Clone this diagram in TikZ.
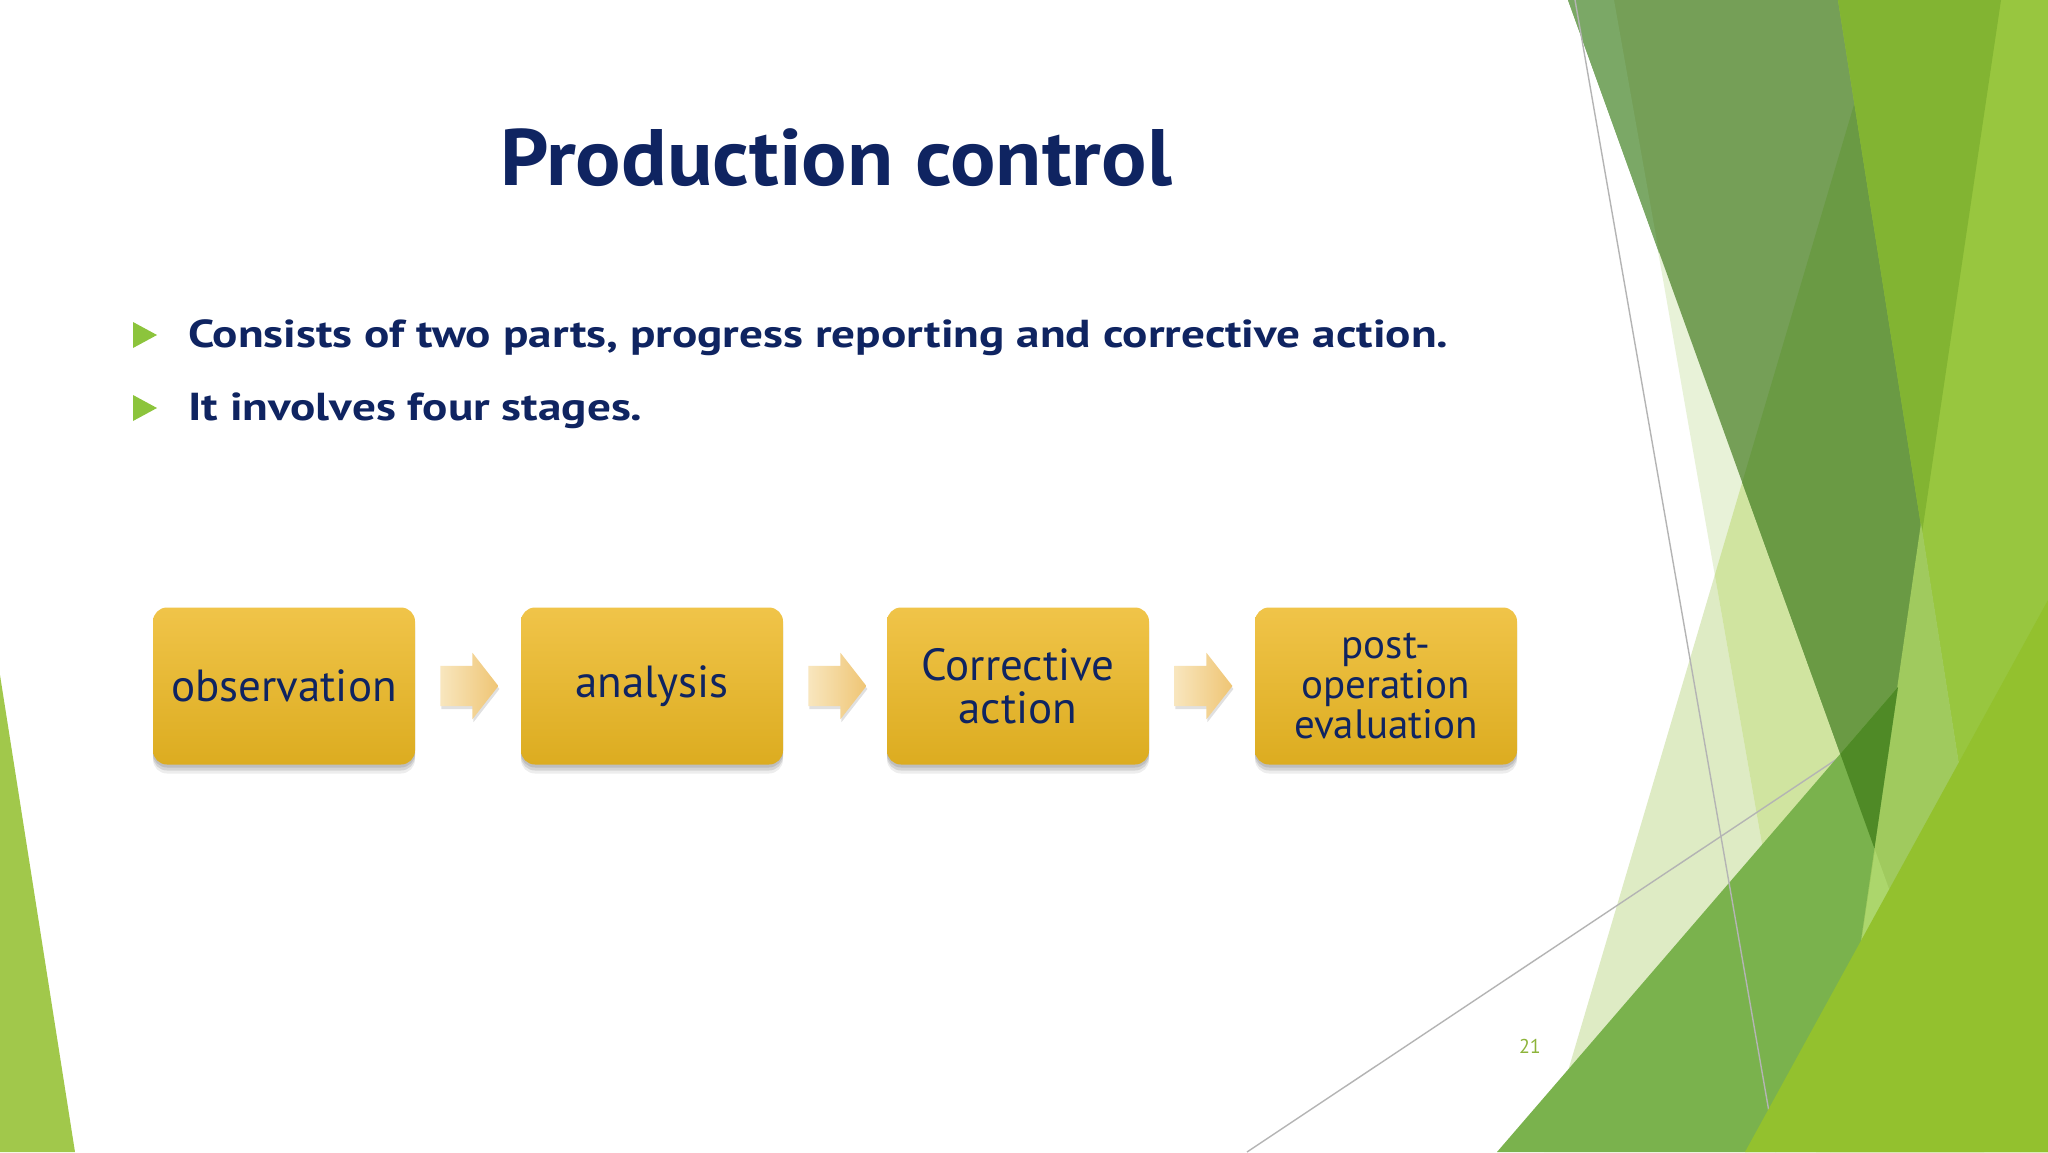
\documentclass[tikz,border=0pt]{standalone}
\usepackage{fontspec}
\setmainfont{PT Sans}
\newfontfamily\titlefont{PT Sans}[FakeStretch=1.06]
\newfontfamily\bulletfont{PT Sans}[FakeStretch=1.21]
\usetikzlibrary{shapes.arrows,calc,shadows}
\definecolor{navy}{HTML}{0F2461}
\definecolor{bulletgreen}{HTML}{8CC43C}
\definecolor{pagegreen}{HTML}{8DB43A}
\definecolor{boxtop}{HTML}{F0C449}
\definecolor{boxbot}{HTML}{DCAC20}
\definecolor{arrowleft}{HTML}{F8E6BE}
\definecolor{arrowright}{HTML}{EFC574}
\definecolor{leftgreen}{HTML}{A1C84B}
\definecolor{ppale}{HTML}{DEEBC4}
\definecolor{qpale}{HTML}{E8F2D8}
\definecolor{qppale}{HTML}{D0E4A0}
\definecolor{dgreen}{HTML}{759F57}
\definecolor{dsliver}{HTML}{7BA866}
\definecolor{dpgreen}{HTML}{6A9A44}
\definecolor{mgreen}{HTML}{98C63F}
\definecolor{mdgreen}{HTML}{82B432}
\definecolor{xgreen}{HTML}{A0CA5E}
\definecolor{wgreen}{HTML}{ACD66C}
\definecolor{ggreen}{HTML}{7AB24D}
\definecolor{gdgreen}{HTML}{4F8A26}
\definecolor{bgreen}{HTML}{93C12E}
\definecolor{thinline}{HTML}{B4B4B4}
\tikzset{
  softshadow/.style={
    drop shadow={shadow xshift=0bp,shadow yshift=-3bp,opacity=0.10,fill=black},
    drop shadow={shadow xshift=0bp,shadow yshift=-6bp,opacity=0.10,fill=black},
    drop shadow={shadow xshift=0bp,shadow yshift=-9bp,opacity=0.07,fill=black}},
  stagebox/.style={rounded corners=14bp, minimum width=262bp, minimum height=157bp,
    top color=boxtop, bottom color=boxbot, draw=none, text=navy, align=center,
    inner sep=0pt, softshadow,
    font=\fontsize{45bp}{43bp}\selectfont},
  flowarrow/.style={single arrow, single arrow head extend=13bp,
    single arrow tip angle=104, minimum height=58bp,
    text height=40bp, text depth=0pt, text width=0pt,
    inner sep=0pt, left color=arrowleft, right color=arrowright, draw=none,
    anchor=tail,
    drop shadow={shadow xshift=1bp,shadow yshift=-3bp,opacity=0.12,fill=black}},
  bullettext/.style={anchor=base west, text=navy, inner sep=0pt,
    font=\fontsize{39bp}{46bp}\bulletfont\bfseries},
  greyline/.style={draw=thinline, line width=1.4bp}
}
\begin{document}
\begin{tikzpicture}[x=1bp,y=-1bp]
\useasboundingbox (0,0) rectangle (2048,1152);
\clip (0,0) rectangle (2048,1152);
\fill[white] (0,0) rectangle (2048,1152);

% left decoration
\fill[leftgreen] (0,675) -- (0,1152) -- (75,1152) -- cycle;

% right decoration
\fill[ppale] (1885,0) -- (2048,0) -- (2048,1152) -- (1544,1152) -- cycle;
\fill[qpale] (1614,0) -- (2048,0) -- (2048,1152) -- (1816,1152) -- cycle;
\begin{scope}
  \clip (1885,0) -- (2048,0) -- (2048,1152) -- (1544,1152) -- cycle;
  \fill[qppale] (1614,0) -- (2048,0) -- (2048,1152) -- (1816,1152) -- cycle;
\end{scope}
\draw[greyline] (1247,1152) -- (1900,717);
\fill[dgreen] (1568,0) -- (2001,0) -- (1875,850) -- cycle;
\fill[dsliver] (1568,0) -- (1614,0) -- (1659,253) -- cycle;
\begin{scope}
  \clip (1885,0) -- (2048,0) -- (2048,1152) -- (1544,1152) -- cycle;
  \fill[dpgreen] (1568,0) -- (2001,0) -- (1875,850) -- cycle;
\end{scope}
\fill[mgreen] (1838,0) -- (2048,0) -- (2048,1152) -- (2020,1152) -- cycle;
\begin{scope}
  \clip (1568,0) -- (2001,0) -- (1875,850) -- cycle;
  \fill[mdgreen] (1838,0) -- (2048,0) -- (2048,1152) -- (2020,1152) -- cycle;
\end{scope}
\fill[xgreen] (1921,523) -- (1830,1152) -- (2020,1152) -- cycle;
\fill[wgreen] (1875,850) -- (1830,1152) -- (1984,1152) -- cycle;
\fill[ggreen] (1497,1152) -- (1898,687) -- (1830,1152) -- cycle;
\begin{scope}
  \clip (1568,0) -- (2001,0) -- (1875,850) -- cycle;
  \fill[gdgreen] (1497,1152) -- (1898,687) -- (1830,1152) -- cycle;
\end{scope}
\draw[greyline] (1575,0) -- (1776,1152);
\fill[bgreen] (1745,1152) -- (2048,600) -- (2048,1152) -- cycle;

% title
\node[anchor=base, text=navy, inner sep=0pt,
  font=\fontsize{80bp}{96bp}\titlefont\bfseries] (title) at (836,185) {Production control};

% bullets
\fill[bulletgreen] (133,322) -- (157,335) -- (133,348) -- cycle;
\node[bullettext] (l1) at (188,347) {Consists of two parts, progress reporting and corrective action.};
\fill[bulletgreen] (133,395) -- (157,408) -- (133,421) -- cycle;
\node[bullettext] (l2) at (188,420) {It involves four stages.};

% stages
\node[stagebox] (b1) at (284,686) {observation};
\node[stagebox] (b2) at (652,686) {analysis};
\node[stagebox] (b3) at (1018,686) {Corrective\\action};
\node[stagebox, font=\fontsize{41bp}{40bp}\selectfont] (b4) at (1386,686) {post-\\operation\\evaluation};

\node[flowarrow] (a1) at ($(b1.east)+(25,0)$) {};
\node[flowarrow] (a2) at ($(b2.east)+(25,0)$) {};
\node[flowarrow] (a3) at ($(b3.east)+(25,0)$) {};

% page number
\node[anchor=base east, text=pagegreen, inner sep=0pt,
  font=\fontsize{20bp}{24bp}\selectfont] (pg) at (1541,1053) {21};
\end{tikzpicture}
\end{document}
